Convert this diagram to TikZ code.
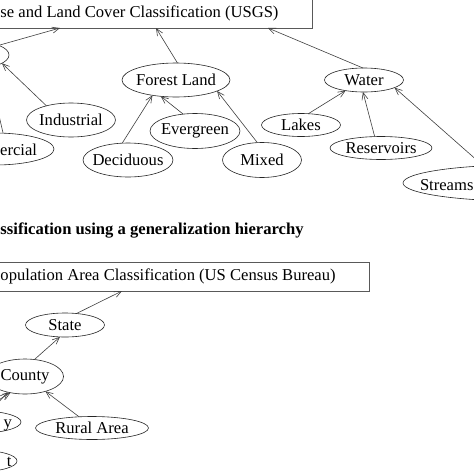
\documentclass[tikz,border=0pt]{standalone}
\usepackage{fontspec}
\setmainfont{Liberation Serif}
\usetikzlibrary{shapes.geometric,arrows.meta}
\begin{document}
\begin{tikzpicture}[x=1pt,y=-1pt,
  font=\fontsize{16.6}{20}\selectfont,
  oval/.style={ellipse,draw=black!85,line width=0.6pt,inner sep=0pt,outer sep=0pt},
  boxnode/.style={rectangle,draw=black!65,line width=0.8pt,inner sep=0pt,outer sep=0pt},
  txt/.style={inner sep=0pt,outer sep=0pt},
  arr/.style={draw=black!75,line width=0.6pt,-{Straight Barb[length=7pt,width=6pt]}}]
\useasboundingbox (0,0) rectangle (474,474);
\clip (0,0) rectangle (474,474);
\fill[white] (0,0) rectangle (474,474);
% ---------- upper hierarchy ----------
\node[boxnode,minimum width=462,minimum height=34] (usgs) at (81,11) {};
\node[txt,anchor=base west] (usgst) at (0.5,17.5) {se and Land Cover Classification (USGS)};
\node[oval,minimum width=62,minimum height=26] (urban) at (-22,55) {};
\node[oval,minimum width=118,minimum height=32] (comm) at (-5,149) {};
\node[txt,anchor=base east] (commt) at (37,155) {ercial};
\node[oval,minimum width=89,minimum height=34,label=center:Industrial] (ind) at (71,120) {};
\node[oval,minimum width=108,minimum height=34,label=center:Forest Land] (forest) at (176,80) {};
\node[oval,minimum width=90,minimum height=35,label=center:Evergreen] (ever) at (195,131) {};
\node[oval,minimum width=90,minimum height=34,label=center:Deciduous] (deci) at (128,160) {};
\node[oval,minimum width=79,minimum height=35,label=center:Mixed] (mixed) at (262,160) {};
\node[oval,minimum width=79,minimum height=24,label=center:Water] (water) at (364,80) {};
\node[oval,minimum width=79,minimum height=23,label=center:Lakes] (lakes) at (301,125) {};
\node[oval,minimum width=102,minimum height=23,label=center:Reservoirs] (res) at (381,148) {};
\node[oval,minimum width=234,minimum height=36] (streams) at (520,183) {};
\node[txt,anchor=base west] (streamst) at (420,190) {Streams};
\coordinate (u1) at (60,28);
\coordinate (u2) at (156,28);
\coordinate (u3) at (268,28);
\draw[arr] (urban.25) -- (u1);
\draw[arr] (forest.85) -- (u2);
\draw[arr] (water.95) -- (u3);
\draw[arr] (ind.150) -- (urban.-19);
\draw[arr] (comm.63) -- (urban.-51);
\draw[arr] (ever.125) -- (forest.-133);
\draw[arr] (deci.109) -- (forest.213);
\draw[arr] (mixed.105) -- (forest.-15);
\draw[arr] (lakes.57) -- (water.210);
\draw[arr] (res.119) -- (water.265);
\draw[arr] (streams.155) -- (water.-14);
% ---------- caption ----------
\node[txt,anchor=base west,font=\fontsize{16.6}{20}\selectfont\bfseries] (cap) at (0.5,234) {ssification using a generalization hierarchy};
% ---------- lower hierarchy ----------
\node[boxnode,minimum width=519,minimum height=29] (census) at (109.5,276.5) {};
\node[txt,anchor=base west] (censust) at (0.5,280) {opulation Area Classification (US Census Bureau)};
\node[oval,minimum width=79,minimum height=24,label=center:State] (state) at (65,325) {};
\node[oval,minimum width=77,minimum height=35,label=center:County] (county) at (25,376.5) {};
\node[oval,minimum width=113,minimum height=23,label=center:Rural Area] (rural) at (92,428) {};
\node[oval,minimum width=92,minimum height=23] (city) at (-25,422) {};
\node[txt,anchor=base east] (cityt) at (12,427) {y};
\node[oval,minimum width=72,minimum height=21] (tract) at (-19,461) {};
\node[txt,anchor=base east] (tractt) at (11.5,466.5) {t};
\coordinate (c1) at (122,291);
\coordinate (c2) at (-40,445);
\draw[arr] (state.45) -- (c1);
\draw[arr] (county.61) -- (state.247);
\draw[arr] (rural.139) -- (county.-36);
\draw[arr] (city.60) -- (county.228);
\draw[arr] (c2) -- (county.222);
\end{tikzpicture}
\end{document}
